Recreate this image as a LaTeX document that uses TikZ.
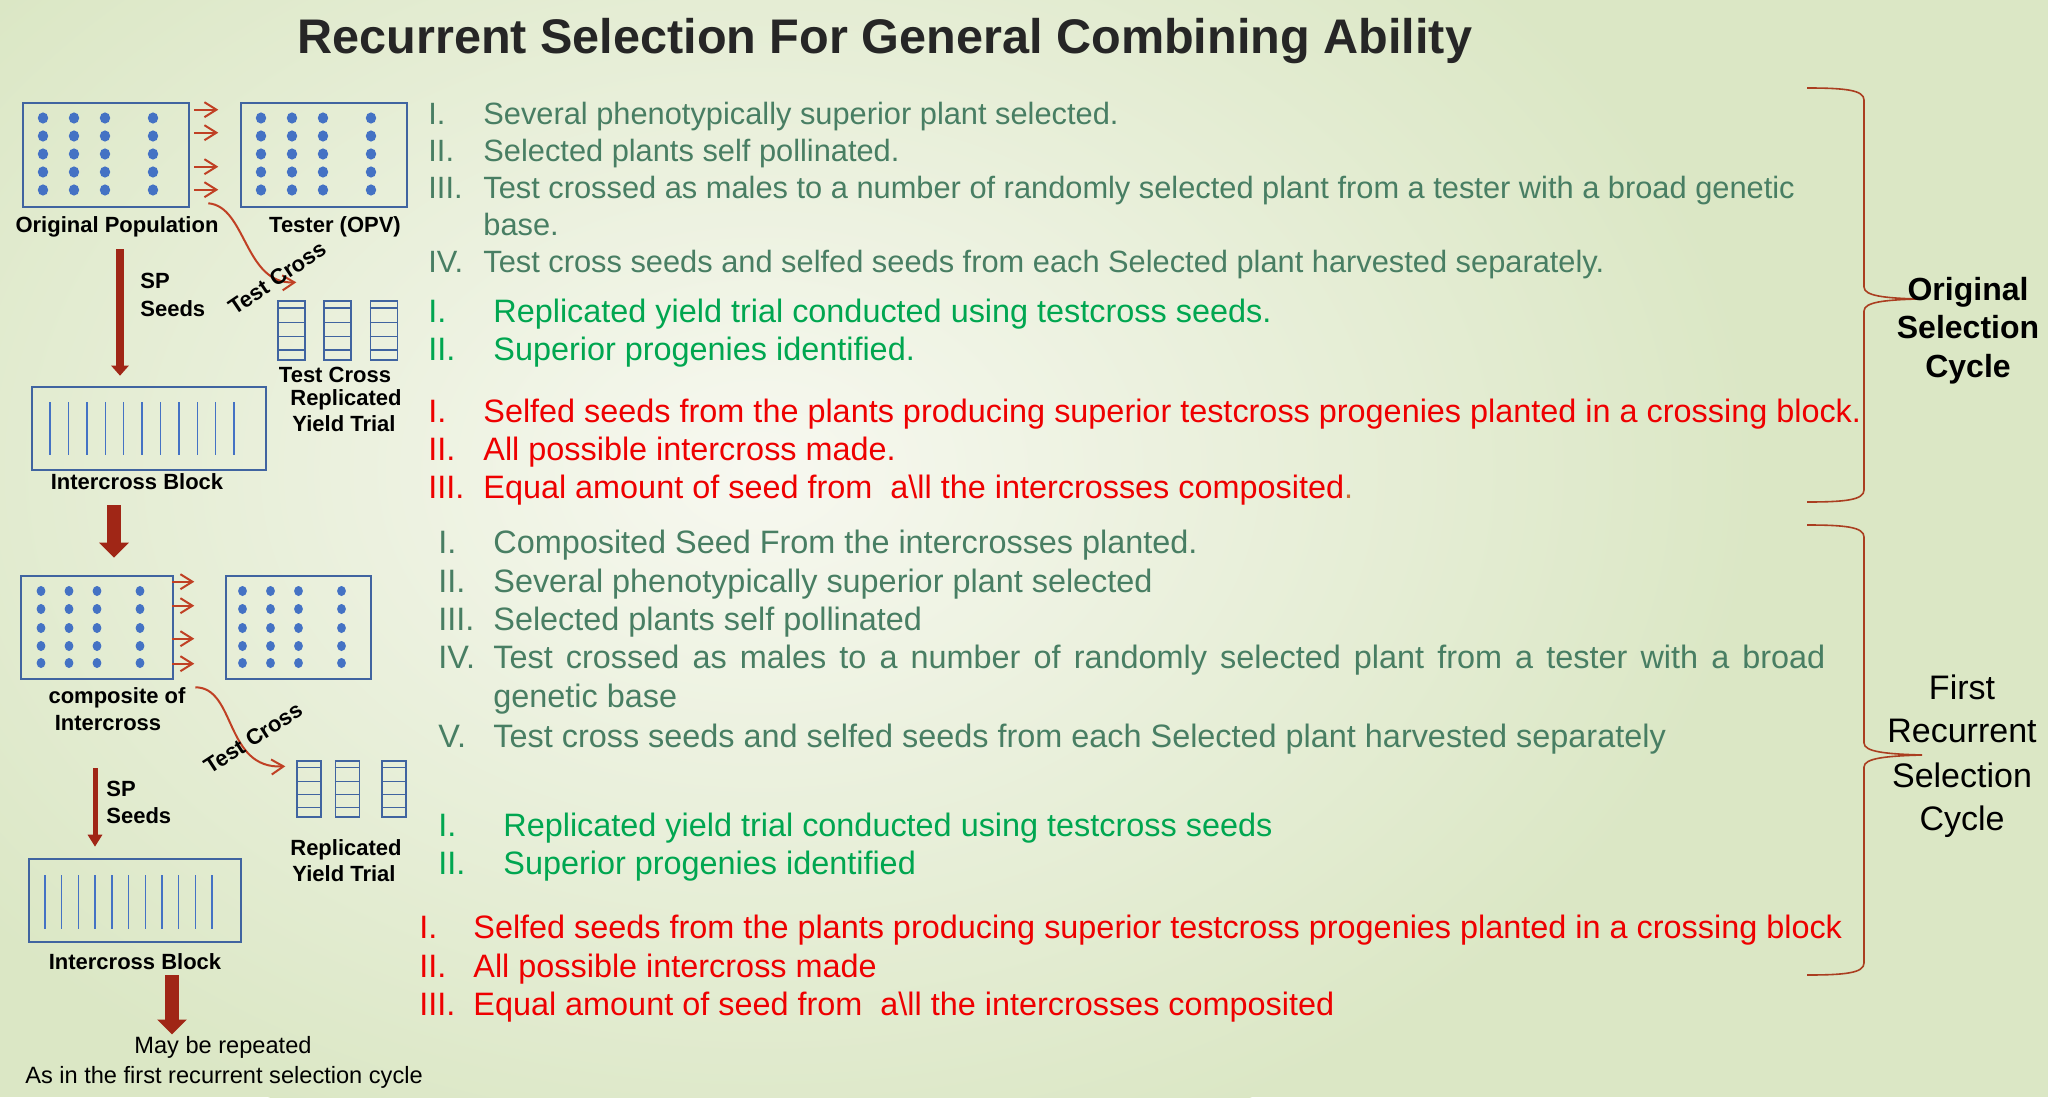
\documentclass[tikz,border=0pt]{standalone}
\usepackage{fontspec}
\setmainfont{Liberation Sans}
\usetikzlibrary{arrows.meta, positioning, calc}
\definecolor{boxblue}{RGB}{64,100,160}
\definecolor{dotblue}{RGB}{68,114,196}
\definecolor{arrowred}{RGB}{192,64,36}
\definecolor{darkred}{RGB}{160,38,22}
\definecolor{stepteal}{RGB}{72,126,99}
\definecolor{stepgreen}{RGB}{0,166,80}
\definecolor{stepred}{RGB}{238,0,0}
\definecolor{dotorange}{RGB}{205,110,50}
\definecolor{bracered}{RGB}{170,62,32}
\definecolor{titlegray}{RGB}{38,38,38}
\definecolor{bgin}{RGB}{247,248,240}
\definecolor{bgout}{RGB}{219,231,197}

\begin{document}
\begin{tikzpicture}[x=0.5pt, y=-0.5pt,
    field/.style={rectangle, draw=boxblue, line width=1.3pt, inner sep=0pt},
    plot/.style={rectangle, draw=boxblue, line width=0.7pt, inner sep=0pt},
    lbl/.style={inner sep=0pt, anchor=base, font=\fontsize{11}{13}\selectfont\bfseries},
    item/.style={inner sep=0pt, anchor=base west, font=\fontsize{16.2}{19}\selectfont},
    tealitem/.style={item, text=stepteal},
    greenitem/.style={item, text=stepgreen},
    reditem/.style={item, text=stepred},
    cyclebold/.style={inner sep=0pt, anchor=base, font=\fontsize{16}{19}\selectfont\bfseries},
    cycleplain/.style={inner sep=0pt, anchor=base, font=\fontsize{17}{20}\selectfont},
    smallarr/.style={arrowred, line width=1pt, -{Straight Barb[length=6pt, width=7.5pt]}},
    testcross/.style={arrowred, line width=1pt, -{Straight Barb[length=6pt, width=7.5pt]}},
    sparrow/.style={darkred, line width=4pt, -{Triangle[width=8.5pt, length=5pt]}},
    blockarrow/.style={darkred, line width=7pt, -{Triangle[width=14.5pt, length=7.5pt]}},
    rowline/.style={dotblue, line width=0.7pt}]

    % background
    \useasboundingbox (0,0) rectangle (2048,1097);
    \begin{scope}
        \clip (0,0) rectangle (2048,1097);
        \fill[bgout] (0,0) rectangle (2048,1097);
        \shade[inner color=bgin, outer color=bgout] (760,470) ellipse [x radius=500pt, y radius=360pt];
    \end{scope}

    \node[anchor=base west, inner sep=0pt, font=\fontsize{24.3}{28}\selectfont\bfseries, text=titlegray] (title) at (297,54) {Recurrent Selection For General Combining Ability};

    % original selection cycle
    \node[field, minimum width=83pt, minimum height=52pt] (pop) at (106,155) {};
    \node[field, minimum width=83pt, minimum height=52pt] (tester) at (324,155) {};
    \foreach \b in {pop,tester}
        \foreach \dx in {-63,-32,-1,47}
            \foreach \dy in {-37,-19,-1,17,35}
                \fill[dotblue] ([shift={(\dx,\dy)}]\b.center) ellipse [x radius=2.6pt, y radius=2.8pt];
    \foreach \dy in {8,31,65,88}
        \draw[smallarr] ([shift={(4,\dy)}]pop.north east) -- ++(24,0);
    \node[lbl] (poplbl) at (117,232) {Original Population};
    \node[lbl] (testerlbl) at (335,232) {Tester (OPV)};

    \foreach \n/\xx in {1/291.5,2/337.5,3/384} {
        \node[plot, minimum width=13.5pt, minimum height=29.5pt] (trA\n) at (\xx,330.5) {};
        \foreach \f in {0.13,0.37,0.6,0.82}
            \draw[boxblue, line width=0.7pt] ($(trA\n.north west)!\f!(trA\n.south west)$) -- ($(trA\n.north east)!\f!(trA\n.south east)$);
    }
    \draw[testcross] ([shift={(18,-5)}]pop.south east) .. controls +(38,3) and +(-52,2) .. ([shift={(19,-18)}]trA1.north west);
    \node[lbl, anchor=center, rotate=34] (tc1) at (277,278) {Test Cross};
    \node[lbl] (trlblA1) at (335,382) {Test Cross};
    \node[lbl] (trlblA2) at (346,405) {Replicated};
    \node[lbl] (trlblA3) at (344,431) {Yield Trial};

    \node[field, minimum width=117pt, minimum height=41.5pt] (ib1) at (149,428.5) {};
    \foreach \i in {0,...,10}
        \draw[rowline] ([shift={(-99+18.4*\i,-26.5)}]ib1.center) -- ++(0,53);
    \node[lbl] (ib1lbl) at (137,489) {Intercross Block};
    \draw[sparrow] ([shift={(14,41)}]pop.south) -- ([shift={(-29,-10)}]ib1.north);
    \node[lbl, anchor=base west] (sp1a) at (140,288) {SP};
    \node[lbl, anchor=base west] (sp1b) at (140,316) {Seeds};

    % first recurrent selection cycle
    \node[field, minimum width=76pt, minimum height=51.5pt] (comp) at (97,627.5) {};
    \node[field, minimum width=72.5pt, minimum height=51.5pt] (tester2) at (298.5,627.5) {};
    \foreach \b in {comp,tester2}
        \foreach \dx in {-56,-28,0,43}
            \foreach \dy in {-36.5,-18.5,0.5,18.5,35.5}
                \fill[dotblue] ([shift={(\dx,\dy)}]\b.center) ellipse [x radius=2.2pt, y radius=2.5pt];
    \foreach \dy in {7,31,64,89}
        \draw[smallarr] ([shift={(-2,\dy)}]comp.north east) -- ++(22,0);
    \draw[blockarrow] ([shift={(-35,34)}]ib1.south) -- ([shift={(17,-17)}]comp.north);
    \node[lbl] (complbl1) at (117,703) {composite of};
    \node[lbl] (complbl2) at (108,730) {Intercross};

    \foreach \n/\xx in {1/309,2/347.5,3/394} {
        \node[plot, minimum width=12pt, minimum height=28pt] (trB\n) at (\xx,789) {};
        \foreach \f in {0.13,0.37,0.6,0.82}
            \draw[boxblue, line width=0.7pt] ($(trB\n.north west)!\f!(trB\n.south west)$) -- ($(trB\n.north east)!\f!(trB\n.south east)$);
    }
    \draw[testcross] ([shift={(21,7)}]comp.south east) .. controls +(41,0) and +(-61,3) .. ([shift={(-11,6)}]trB1.north west);
    \node[lbl, anchor=center, rotate=33] (tc2) at (253,738) {Test Cross};
    \node[lbl] (trlblB1) at (346,855) {Replicated};
    \node[lbl] (trlblB2) at (344,881) {Yield Trial};

    \node[field, minimum width=106pt, minimum height=41.5pt] (ib2) at (135,900.5) {};
    \foreach \i in {0,...,10}
        \draw[rowline] ([shift={(-90+16.7*\i,-25.5)}]ib2.center) -- ++(0,54);
    \node[lbl] (ib2lbl) at (135,969) {Intercross Block};
    \draw[sparrow, line width=2.5pt, -{Triangle[width=7pt, length=6pt]}] ([shift={(-2,88)}]comp.south) -- ([shift={(-40,-11)}]ib2.north);
    \node[lbl, anchor=base west] (sp2a) at (106,796) {SP};
    \node[lbl, anchor=base west] (sp2b) at (106,823) {Seeds};
    \node[lbl, font=\fontsize{11.8}{14}\selectfont] (rep1) at (223,1053) {May be repeated};
    \node[lbl, font=\fontsize{11.8}{14}\selectfont] (rep2) at (224,1083) {As in the first recurrent selection cycle};
    \draw[blockarrow] ([shift={(37,32)}]ib2.south) -- ([shift={(-51,-1)}]rep1.north);

    % steps of the original cycle
    \foreach \yy/\nn/\tt [count=\i] in {125/I./Several phenotypically superior plant selected.,
        162/II./Selected plants self pollinated.,
        198/III./Test crossed as males to a number of randomly selected plant from a tester with a broad genetic,
        235/{}/base.,
        272/IV./Test cross seeds and selfed seeds from each Selected plant harvested separately.} {
        \node[tealitem, font=\fontsize{15.4}{18}\selectfont] (numA\i) at (428,\yy) {\nn};
        \node[tealitem, font=\fontsize{15.4}{18}\selectfont] (txtA\i) at (483,\yy) {\tt};
    }
    \foreach \yy/\nn/\tt [count=\i] in {322/I./Replicated yield trial conducted using testcross seeds.,
        360/II./Superior progenies identified.} {
        \node[greenitem] (numB\i) at (428,\yy) {\nn};
        \node[greenitem] (txtB\i) at (493,\yy) {\tt};
    }
    \foreach \yy/\nn/\tt [count=\i] in {422/I./Selfed seeds from the plants producing superior testcross progenies planted in a crossing block.,
        460/II./All possible intercross made.,
        498/III./{Equal amount of seed from \ a\textbackslash ll the intercrosses composited\textcolor{dotorange}{.}}} {
        \node[reditem] (numC\i) at (428,\yy) {\nn};
        \node[reditem] (txtC\i) at (483,\yy) {\tt};
    }

    % steps of the first recurrent cycle
    \foreach \yy/\nn/\tt [count=\i] in {553/I./Composited Seed From the intercrosses planted.,
        592/II./Several phenotypically superior plant selected,
        630/III./Selected plants self pollinated,
        668/IV./{\makebox[666pt][s]{Test crossed as males to a number of randomly selected plant from a tester with a broad}},
        707/{}/genetic base,
        747/V./Test cross seeds and selfed seeds from each Selected plant harvested separately} {
        \node[tealitem] (numD\i) at (438,\yy) {\nn};
        \node[tealitem] (txtD\i) at (493,\yy) {\tt};
    }
    \foreach \yy/\nn/\tt [count=\i] in {836/I./Replicated yield trial conducted using testcross seeds,
        874/II./Superior progenies identified} {
        \node[greenitem] (numE\i) at (438,\yy) {\nn};
        \node[greenitem] (txtE\i) at (503,\yy) {\tt};
    }
    \foreach \yy/\nn/\tt [count=\i] in {938/I./Selfed seeds from the plants producing superior testcross progenies planted in a crossing block,
        977/II./All possible intercross made,
        1015/III./{Equal amount of seed from \ a\textbackslash ll the intercrosses composited}} {
        \node[reditem] (numF\i) at (419,\yy) {\nn};
        \node[reditem] (txtF\i) at (473,\yy) {\tt};
    }

    % cycle braces
    \draw[bracered, line width=0.8pt] (1807,88) .. controls (1845,88) and (1864,90) .. (1864,100) -- (1864,287)
        .. controls (1864,296) and (1885,298) .. (1917,299) .. controls (1885,300) and (1864,302) .. (1864,311)
        -- (1864,490) .. controls (1864,500) and (1845,502) .. (1807,502);
    \draw[bracered, line width=0.8pt] (1807,525) .. controls (1845,525) and (1864,527) .. (1864,537) -- (1864,743)
        .. controls (1864,752) and (1887,754) .. (1922,755) .. controls (1887,756) and (1864,758) .. (1864,767)
        -- (1864,963) .. controls (1864,973) and (1845,975) .. (1807,975);
    \foreach \w/\yy [count=\i] in {Original/300,Selection/338,Cycle/377}
        \node[cyclebold] (orig\i) at (1968,\yy) {\w};
    \foreach \w/\yy [count=\i] in {First/699,Recurrent/742,Selection/787,Cycle/830}
        \node[cycleplain] (first\i) at (1962,\yy) {\w};
\end{tikzpicture}
\end{document}
